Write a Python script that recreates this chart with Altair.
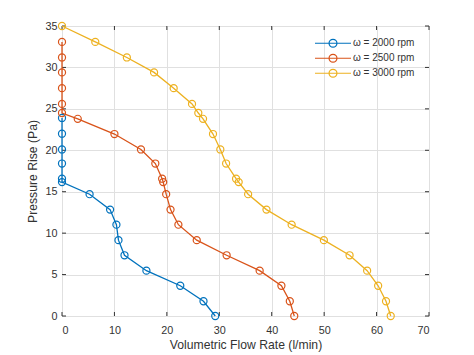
import altair as alt
import pandas as pd

SERIES = ["ω = 2000 rpm", "ω = 2500 rpm", "ω = 3000 rpm"]
COLORS = ["#0072BD", "#D95319", "#EDB120"]

FLOW_2000 = [0, 0, 0, 0, 0, 0, 5.26, 9.17, 10.38, 10.77, 11.92, 16.1, 22.56, 26.99, 29.23]
PRES_2000 = [23.9, 22.0, 20.1, 18.4, 16.57, 16.16, 14.7, 12.84, 11.02, 9.15, 7.33, 5.47, 3.65, 1.78, 0]

FLOW_2500 = [0, 0, 0, 0, 0, 0, 3.0, 10.0, 15.06, 17.8, 19.1, 19.3, 19.87, 20.7, 22.2, 25.7,
             31.4, 37.7, 41.85, 43.45, 44.3]
PRES_2500 = [33.08, 31.2, 29.4, 27.5, 25.6, 24.5, 23.8, 21.96, 20.1, 18.4, 16.57, 16.16, 14.7,
             12.84, 11.02, 9.15, 7.33, 5.47, 3.65, 1.78, 0]

FLOW_3000 = [0, 6.35, 12.37, 17.56, 21.3, 24.8, 26.0, 26.9, 28.8, 30.2, 31.3, 33.2, 33.7, 35.5,
             39.0, 43.8, 49.95, 54.85, 58.2, 60.3, 61.8, 62.7]
PRES_3000 = [35, 33.08, 31.2, 29.4, 27.5, 25.6, 24.5, 23.8, 21.96, 20.1, 18.4, 16.57, 16.16, 14.7,
             12.84, 11.02, 9.15, 7.33, 5.47, 3.65, 1.78, 0]

X_TICKS = [0, 10, 20, 30, 40, 50, 60, 70]
Y_TICKS = [0, 5, 10, 15, 20, 25, 30, 35]

W, H = 367, 290
FONT = "Liberation Sans"
TXT = "#333333"
GRID = "#e0e0e0"
LBL = 10.8
TTL = 12.2

rows = []
for name, fx, py in zip(SERIES, [FLOW_2000, FLOW_2500, FLOW_3000], [PRES_2000, PRES_2500, PRES_3000]):
    for i, (a, b) in enumerate(zip(fx, py)):
        rows.append({"series": name, "idx": i, "flow": a, "pressure": b})
df = pd.DataFrame(rows)


def axis(title, values, lpad, tpad):
    return alt.Axis(values=values, title=title, labelPadding=lpad, titlePadding=tpad,
                    titleFontWeight="normal", labelFontSize=LBL, titleFontSize=TTL,
                    labelFont=FONT, titleFont=FONT, labelColor=TXT, titleColor=TXT,
                    ticks=False, tickSize=0, domain=False, grid=True, gridColor=GRID,
                    gridWidth=1)


def xenc(field):
    return alt.X(f"{field}:Q", scale=alt.Scale(domain=[0, 70], nice=False, zero=False),
                 axis=axis("Volumetric Flow Rate (l/min)", X_TICKS, 8.5, 3))


def yenc(field):
    return alt.Y(f"{field}:Q", scale=alt.Scale(domain=[0, 35], nice=False, zero=False),
                 axis=axis("Pressure Rise (Pa)", Y_TICKS, 5, 5))


legend = alt.Legend(
    title=None, orient="none", legendX=252, legendY=11,
    symbolType="M-1,0L1,0M0.22,0A0.22,0.22 0 1 1 -0.22,0A0.22,0.22 0 1 1 0.22,0",
    symbolSize=1296, symbolStrokeWidth=1.2, symbolFillColor="transparent",
    clipHeight=12.5, rowPadding=2, labelOffset=1, labelFontSize=10, labelFont=FONT,
    labelColor=TXT, padding=0,
)
color = alt.Color("series:N", scale=alt.Scale(domain=SERIES, range=COLORS), legend=legend)

base = alt.Chart(df)
lines = base.mark_line(strokeWidth=1.3).encode(x=xenc("flow"), y=yenc("pressure"), color=color,
                                                order="idx:Q")
points = base.mark_point(filled=False, size=50, strokeWidth=1.2, opacity=1).encode(
    x=xenc("flow"), y=yenc("pressure"), color=color)

xt = pd.DataFrame({"v": X_TICKS})
yt = pd.DataFrame({"v": Y_TICKS})
tick_b = alt.Chart(xt).mark_rule(color=TXT, strokeWidth=1).encode(
    x=xenc("v"), y=alt.value(H), y2=alt.value(H - 4))
tick_t = alt.Chart(xt).mark_rule(color=TXT, strokeWidth=1).encode(
    x=xenc("v"), y=alt.value(0), y2=alt.value(4))
tick_l = alt.Chart(yt).mark_rule(color=TXT, strokeWidth=1).encode(
    y=yenc("v"), x=alt.value(0), x2=alt.value(4))
tick_r = alt.Chart(yt).mark_rule(color=TXT, strokeWidth=1).encode(
    y=yenc("v"), x=alt.value(W - 4), x2=alt.value(W))

chart = alt.layer(tick_b, tick_t, tick_l, tick_r, lines, points).properties(
    width=W, height=H,
    autosize=alt.AutoSizeParams(type="none"),
    padding={"left": 54, "top": 18, "right": 20, "bottom": 36},
).configure_view(
    stroke=TXT, strokeWidth=1
).configure(background="white")

chart.save("out.html", embed_options={"renderer": "svg", "actions": False})
